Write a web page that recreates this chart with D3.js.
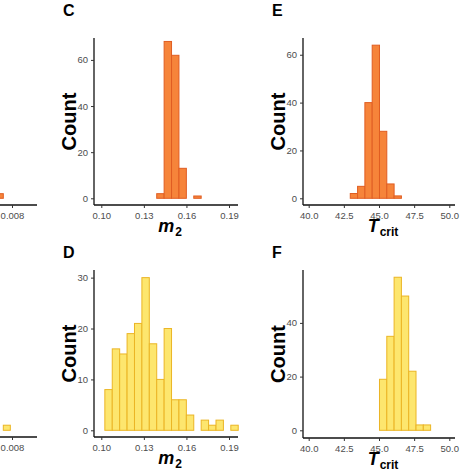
<!DOCTYPE html>
<html><head><meta charset="utf-8">
<script src="https://cdn.jsdelivr.net/npm/d3@7"></script>
<style>body{margin:0;background:#fff}svg{display:block}</style>
</head><body>
<div id="chart"></div>
<script>
// histogram counts per bin (18 equal bins over each panel's range)
const countsA = [2, 0, 0, 0];
const countsB = [0, 1, 0, 0];
const countsC = [0,0,0,0,0,0,0,2,68,62,13,0,1,0,0,0,0,0];
const countsD = [8,16,15,19,21,30,17,10,20,6,6,3,0,2,1,2,0,1];
const countsE = [0,0,0,0,0,2,5,40,64,28,6,1,0,0,0,0,0,0];
const countsF = [0,0,0,0,0,0,0,0,0,19,35,57,50,22,2,2,0,0];
const m2Ticks = [0.10, 0.13, 0.16, 0.19];
const tTicks = [40.0, 42.5, 45.0, 47.5, 50.0];

const orange = {fill: "#f6843a", stroke: "#e05d22"};
const yellow = {fill: "#fde66e", stroke: "#ebb525"};

const svg = d3.select("#chart").append("svg").attr("width", 474).attr("height", 474);

function panel(o) {
  const g = svg.append("g");
  const x = d3.scaleLinear().domain(o.xDom).range(o.xRange);
  const y = d3.scaleLinear().domain([0, o.yMax]).range([o.zeroY, o.topY]);
  const w = (o.hi - o.lo) / o.counts.length;
  const bins = o.counts.map((c, i) => ({x0: o.lo + i * w, x1: o.lo + (i + 1) * w, c}));

  g.selectAll("rect").data(bins).join("rect")
    .attr("x", d => x(d.x0)).attr("width", d => x(d.x1) - x(d.x0))
    .attr("y", d => y(d.c)).attr("height", d => y(0) - y(d.c))
    .attr("fill", o.col.fill).attr("stroke", o.col.stroke).attr("stroke-width", 1);

  // axes
  const xa = g.append("g").attr("transform", `translate(0,${o.axisY})`)
    .call(d3.axisBottom(x).tickValues(o.xTicks).tickFormat(o.fmt).tickSize(3).tickSizeOuter(0));
  xa.select(".domain").attr("d", `M${o.axisX},0H${o.axisEnd}`).attr("stroke", "#111").attr("stroke-width", 1.3);
  xa.selectAll("text").attr("fill", "#4d4d4d").attr("font-size", 9.5).attr("dy", "0.85em")
    .attr("font-family", "Liberation Sans, Arial");
  xa.selectAll("line").attr("stroke", "#333");

  if (o.yTicks) {
    const ya = g.append("g").attr("transform", `translate(${o.axisX},0)`)
      .call(d3.axisLeft(y).tickValues(o.yTicks).tickSize(3).tickSizeOuter(0));
    ya.select(".domain").attr("d", `M0,${o.topY}V${o.axisY}`).attr("stroke", "#111").attr("stroke-width", 1.3);
    ya.selectAll("text").attr("fill", "#4d4d4d").attr("font-size", 9.5).attr("font-family", "Liberation Sans, Arial");
    ya.selectAll("line").attr("stroke", "#333");
  }
  if (o.letter) {
    g.append("text").attr("x", o.letterX).attr("y", o.letterY).text(o.letter)
      .attr("font-family", "Liberation Sans, Arial").attr("font-weight", "bold").attr("font-size", 16);
    g.append("text").attr("transform", `translate(${o.letterX + 13},${(o.topY + o.axisY) / 2}) rotate(-90)`)
      .attr("text-anchor", "middle").text("Count")
      .attr("font-family", "Liberation Sans, Arial").attr("font-weight", "bold").attr("font-size", 20);
    const t = g.append("text").attr("x", (o.axisX + o.axisEnd) / 2 + 4).attr("y", o.axisY + 27)
      .attr("text-anchor", "middle").attr("font-family", "Liberation Sans, Arial")
      .attr("font-weight", "bold").attr("font-size", 18);
    t.append("tspan").attr("font-style", "italic").text(o.title[0]);
    t.append("tspan").attr("font-size", 12).attr("dx", 1).attr("dy", 4).text(o.title[1]);
  }
}

const fmtT = d3.format(".1f"), fmtM = d3.format(".2f");
// partial left panels
panel({counts: countsA, lo: 0.00715, hi: 0.00867, xDom: [0.007, 0.009], xRange: [-6.5, 30.5],
  yMax: 69.5, zeroY: 198.3, topY: 38, axisY: 205, axisX: -5, axisEnd: 37,
  xTicks: [0.008], fmt: d3.format(".3f"), col: orange});
panel({counts: countsB, lo: 0.00715, hi: 0.00867, xDom: [0.007, 0.009], xRange: [-6.5, 30.5],
  yMax: 31.5, zeroY: 430.3, topY: 270, axisY: 437, axisX: -5, axisEnd: 37,
  xTicks: [0.008], fmt: d3.format(".3f"), col: yellow});

panel({counts: countsC, lo: 0.1025, hi: 0.1965, xDom: [0.10, 0.19], xRange: [101.3, 229],
  yMax: 69.5, zeroY: 198.3, topY: 38, axisY: 205, axisX: 94, axisEnd: 238,
  xTicks: m2Ticks, fmt: fmtM, yTicks: [0, 20, 40, 60], col: orange,
  letter: "C", letterX: 63, letterY: 16, title: ["m", "2"]});
panel({counts: countsD, lo: 0.1025, hi: 0.1965, xDom: [0.10, 0.19], xRange: [101.3, 229],
  yMax: 31.5, zeroY: 430.3, topY: 270, axisY: 437, axisX: 94, axisEnd: 238,
  xTicks: m2Ticks, fmt: fmtM, yTicks: [0, 10, 20, 30], col: yellow,
  letter: "D", letterX: 63, letterY: 258, title: ["m", "2"]});
panel({counts: countsE, lo: 40.36, hi: 49.71, xDom: [40, 50], xRange: [308.7, 449.3],
  yMax: 67, zeroY: 198.3, topY: 38, axisY: 205, axisX: 303, axisEnd: 455,
  xTicks: tTicks, fmt: fmtT, yTicks: [0, 20, 40, 60], col: orange,
  letter: "E", letterX: 272, letterY: 16, title: ["T", "crit"]});
panel({counts: countsF, lo: 40.36, hi: 49.71, xDom: [40, 50], xRange: [308.7, 449.3],
  yMax: 59.7, zeroY: 430.3, topY: 270, axisY: 438, axisX: 303, axisEnd: 455,
  xTicks: tTicks, fmt: fmtT, yTicks: [0, 20, 40], col: yellow,
  letter: "F", letterX: 272, letterY: 258, title: ["T", "crit"]});
</script>
</body></html>
